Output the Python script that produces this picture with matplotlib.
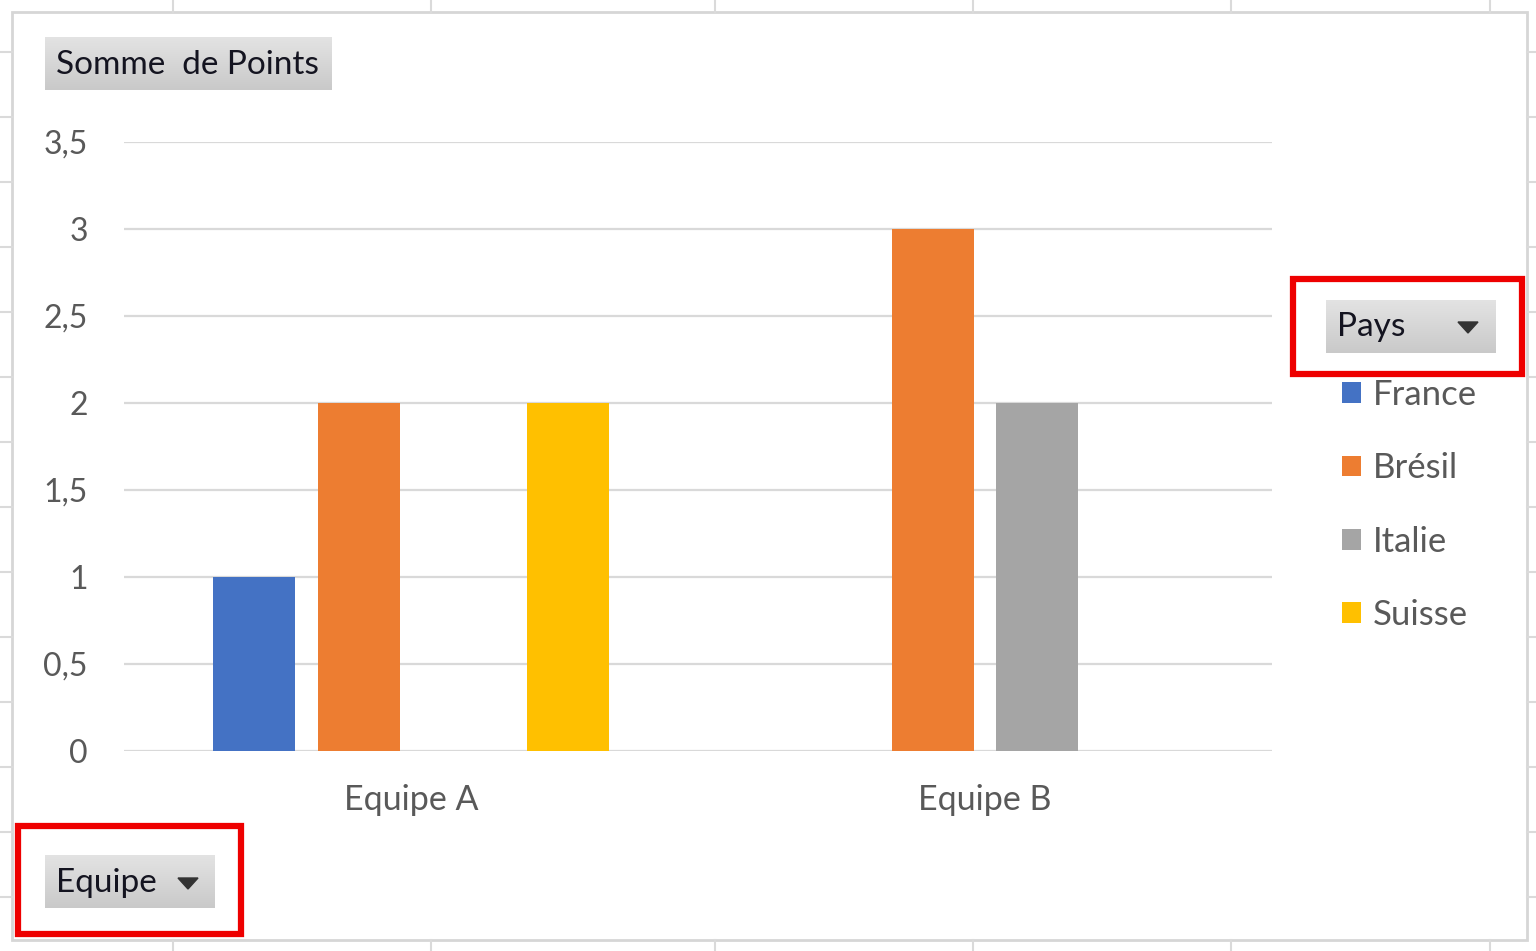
import numpy as np
import matplotlib
matplotlib.use("Agg")
import matplotlib.pyplot as plt
from matplotlib.patches import Rectangle, Polygon
from matplotlib.ticker import FuncFormatter

plt.rcParams['font.family'] = ['Lato', 'DejaVu Sans']

# data
teams = ["Equipe A", "Equipe B"]
countries = ["France", "Brésil", "Italie", "Suisse"]
france = [1, np.nan]
bresil = [2, 3]
italie = [np.nan, 2]
suisse = [2, np.nan]
series = [france, bresil, italie, suisse]
colors = ["#4472C4", "#ED7D31", "#A5A5A5", "#FFC000"]

W, H = 1536, 951
fig = plt.figure(figsize=(W / 100, H / 100), dpi=100)
fig.patch.set_facecolor("white")

# overlay in pixel coords for the spreadsheet background and the pivot buttons
bg = fig.add_axes([0, 0, 1, 1], zorder=0)
bg.set_xlim(0, W)
bg.set_ylim(H, 0)
bg.axis("off")

cell = "#dadada"
for x in [173, 431, 715, 973, 1231, 1490]:
    bg.plot([x, x], [0, 12], color=cell, lw=1.5)
    bg.plot([x, x], [940, H], color=cell, lw=1.5)
for y in range(52, 940, 65):
    bg.plot([0, 12], [y, y], color=cell, lw=1.5)
    bg.plot([1527, W], [y, y], color=cell, lw=1.5)
bg.add_patch(Rectangle((12, 12), 1515, 928, fill=False, ec="#d6d6d6", lw=2))

# light grey vertical gradient for the field buttons
top_c = np.array([0.89, 0.89, 0.89])
bot_c = np.array([0.79, 0.79, 0.79])
t = np.linspace(0, 1, 60).reshape(-1, 1, 1)
grad = top_c * (1 - t) + bot_c * t


def button(x0, y0, x1, y1, label, arrow=None):
    bg.imshow(grad, extent=(x0, x1, y1, y0), aspect="auto", zorder=1)
    bg.text(x0 + 11, (y0 + y1) / 2 + 1, label, fontsize=24, color="#141420",
            va="center", ha="left", zorder=2)
    if arrow is not None:
        ax_, ay_ = arrow
        bg.add_patch(Polygon([[ax_ - 10, ay_ - 5], [ax_ + 10, ay_ - 5], [ax_, ay_ + 6]],
                             closed=True, color="#333333", zorder=2))


button(45, 37, 332, 90, "Somme  de Points")
button(1326, 300, 1496, 353, "Pays", arrow=(1468, 327))
button(45, 855, 215, 908, "Equipe", arrow=(188, 883))
bg.set_xlim(0, W)
bg.set_ylim(H, 0)

bg.add_patch(Rectangle((1293, 279), 229, 95, fill=False, ec="#ee0000", lw=4.5, zorder=3))
bg.add_patch(Rectangle((18, 826), 223, 108, fill=False, ec="#ee0000", lw=4.5, zorder=3))

# chart
ax = fig.add_axes([124 / W, 1 - 751 / H, 1148 / W, 609 / H], zorder=2)
ax.patch.set_alpha(0)
x = np.arange(len(teams))
step = 0.182
width = 0.143
handles = []
for i, (vals, c, name) in enumerate(zip(series, colors, countries)):
    b = ax.bar(x + (i - 1.5) * step, vals, width, color=c, label=name, zorder=3)
    handles.append(b)

ax.set_xlim(-0.5, 1.5)
ax.set_ylim(0, 3.5)
ax.set_yticks(np.arange(0, 3.51, 0.5))
ax.yaxis.set_major_formatter(FuncFormatter(lambda v, p: f"{v:g}".replace(".", ",")))
ax.grid(axis="y", color="#d9d9d9", lw=1.6, zorder=0)
ax.set_axisbelow(True)
for s in ax.spines.values():
    s.set_visible(False)
ax.set_xticks(x)
ax.set_xticklabels(teams)
ax.tick_params(axis="y", length=0, pad=26, labelsize=23, labelcolor="#595959")
ax.tick_params(axis="x", length=0, pad=24, labelsize=24.5, labelcolor="#595959")

fig.legend(handles=handles, labels=countries, loc="upper left",
           bbox_to_anchor=(1342 / W, 1 - 379 / H), frameon=False,
           fontsize=25, labelcolor="#595959", handlelength=0.55, handleheight=0.55,
           handletextpad=0.35, labelspacing=1.19, borderaxespad=0, borderpad=0)

fig.savefig("out.png", dpi=100, facecolor="white")
